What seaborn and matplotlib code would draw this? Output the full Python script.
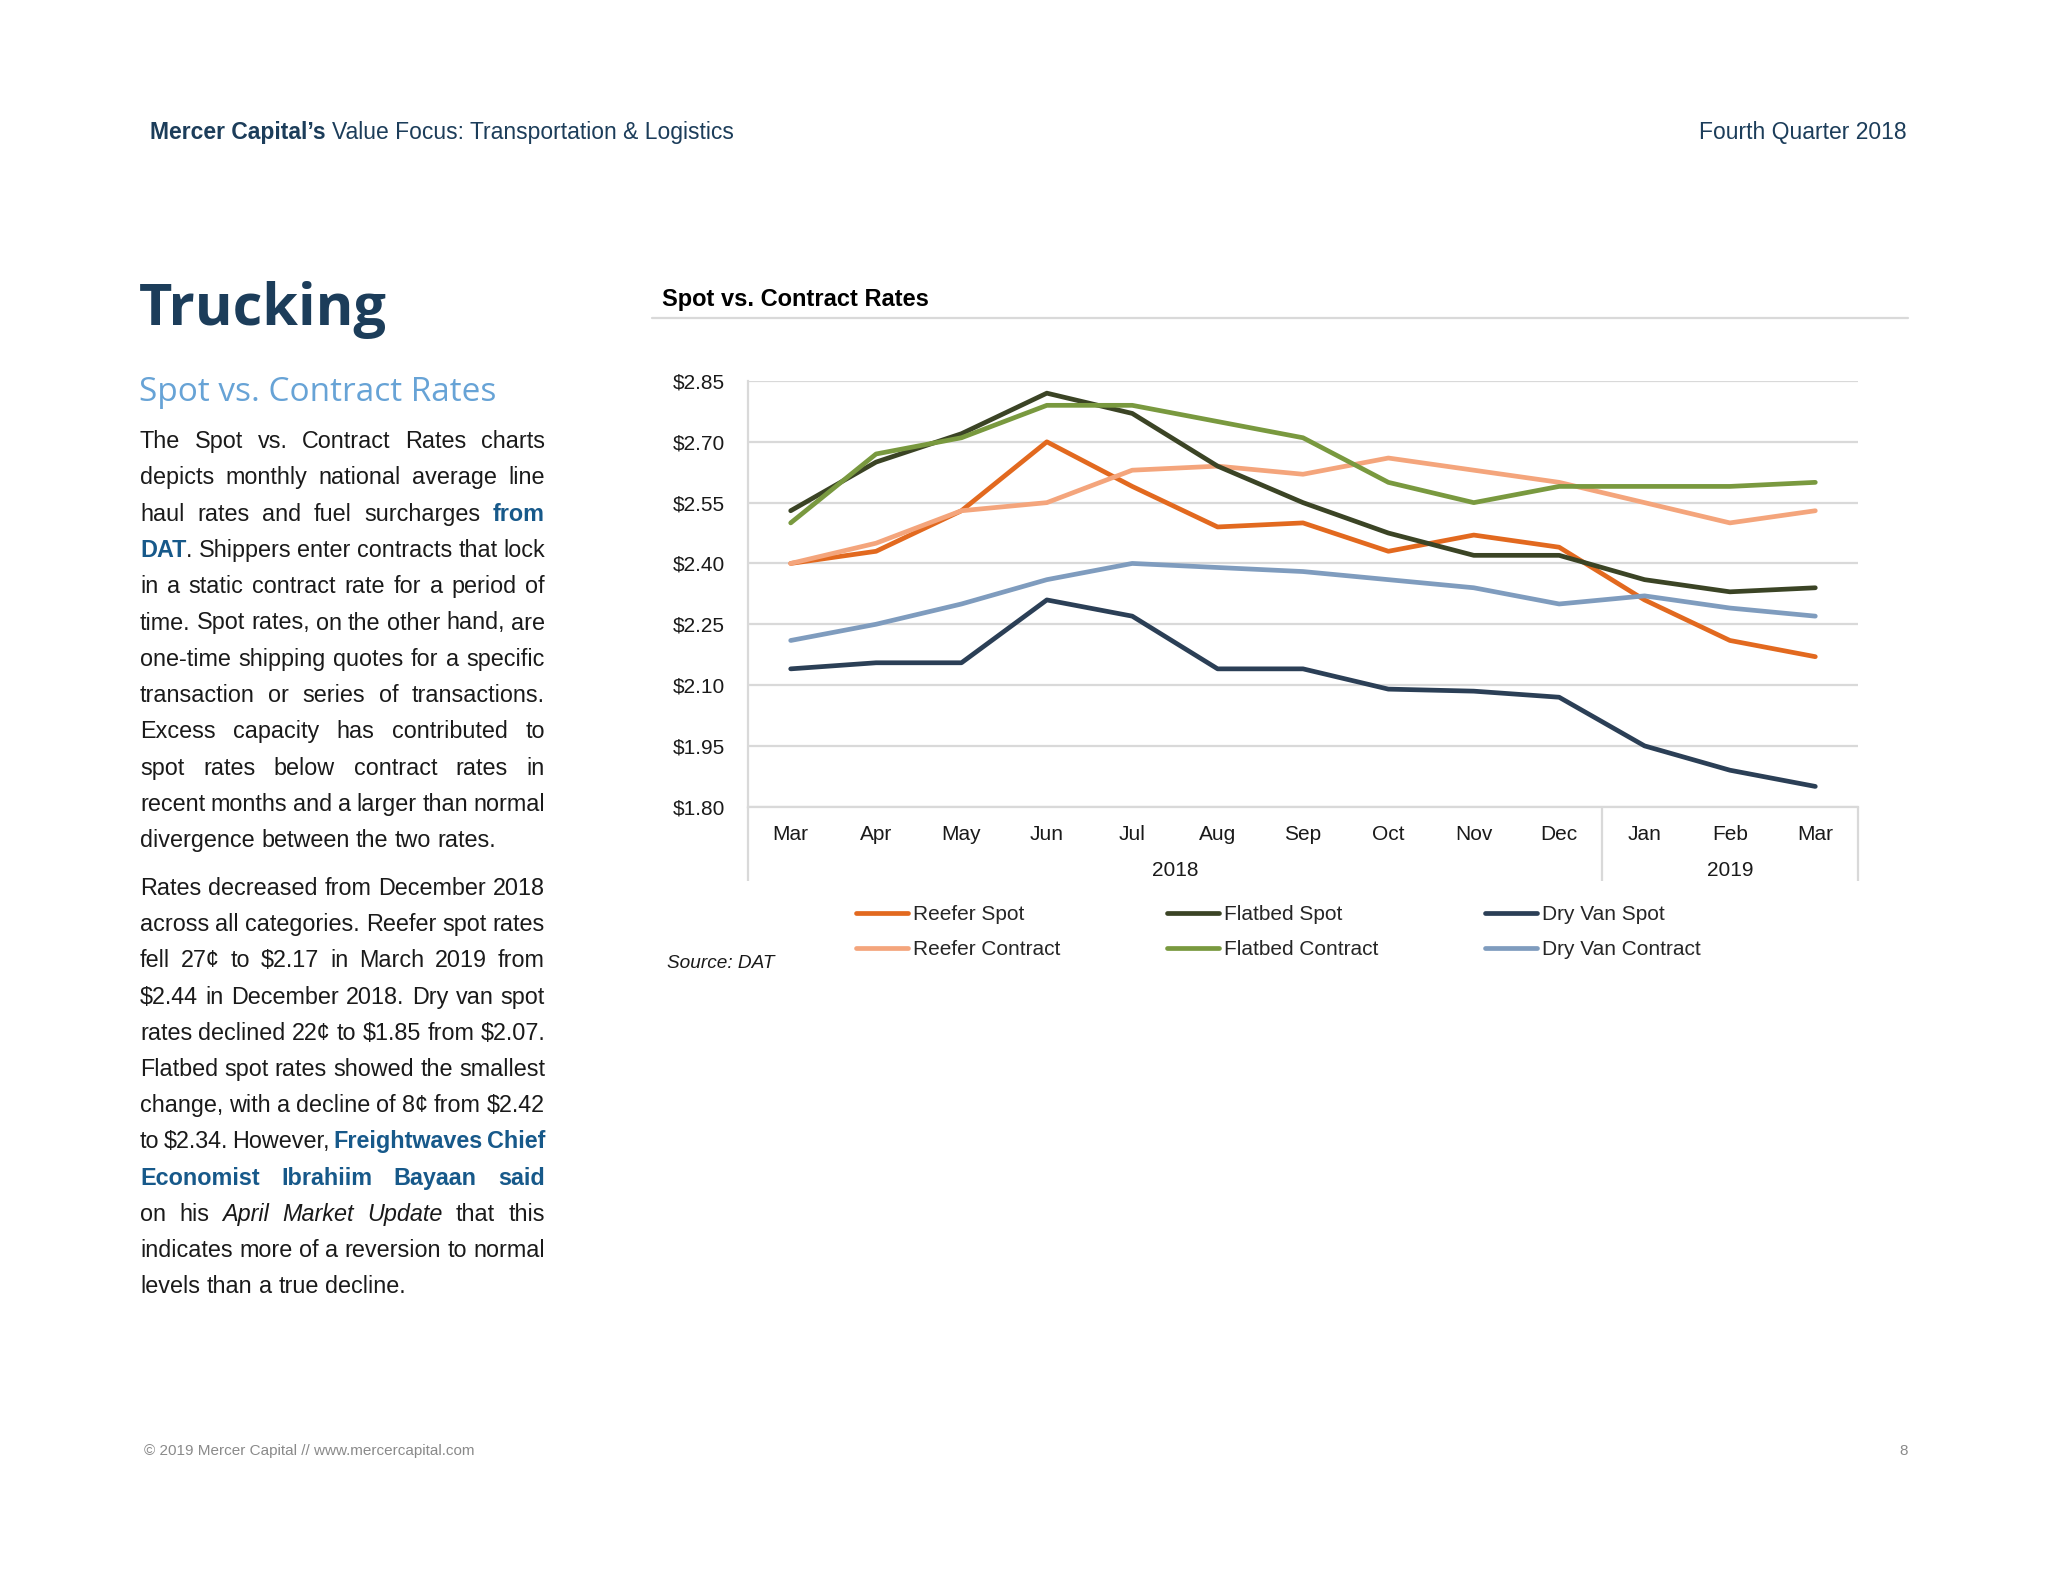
"""
Mercer Capital Value Focus page: Trucking spot vs. contract rates.
"""
import re
import numpy as np
import pandas as pd
import matplotlib
matplotlib.use('Agg')
import matplotlib.pyplot as plt
import seaborn as sns

# ---- chart data (USD per mile) ----
months = ['Mar', 'Apr', 'May', 'Jun', 'Jul', 'Aug', 'Sep', 'Oct', 'Nov', 'Dec', 'Jan', 'Feb', 'Mar']
years = ['2018', '2019']
months_per_year = [10, 3]

reefer_spot = [2.40, 2.43, 2.53, 2.70, 2.59, 2.49, 2.50, 2.43, 2.47, 2.44, 2.31, 2.21, 2.17]
reefer_contract = [2.40, 2.45, 2.53, 2.55, 2.63, 2.64, 2.62, 2.66, 2.63, 2.60, 2.55, 2.50, 2.53]
flatbed_spot = [2.53, 2.65, 2.72, 2.82, 2.77, 2.64, 2.55, 2.475, 2.42, 2.42, 2.36, 2.33, 2.34]
flatbed_contract = [2.50, 2.67, 2.71, 2.79, 2.79, 2.75, 2.71, 2.60, 2.55, 2.59, 2.59, 2.59, 2.60]
dry_van_spot = [2.14, 2.155, 2.155, 2.31, 2.27, 2.14, 2.14, 2.09, 2.085, 2.07, 1.95, 1.89, 1.85]
dry_van_contract = [2.21, 2.25, 2.30, 2.36, 2.40, 2.39, 2.38, 2.36, 2.34, 2.30, 2.32, 2.29, 2.27]

series_names = ['Reefer Spot', 'Reefer Contract', 'Flatbed Spot',
                'Flatbed Contract', 'Dry Van Spot', 'Dry Van Contract']
series_values = [reefer_spot, reefer_contract, flatbed_spot,
                 flatbed_contract, dry_van_spot, dry_van_contract]
series_colors = ['#e2691f', '#f4a57c', '#3b4425', '#79993f', '#2b3f56', '#7f9cbe']
y_ticks = [1.80, 1.95, 2.10, 2.25, 2.40, 2.55, 2.70, 2.85]

# ---- page text ----
para1 = [
    "The Spot vs. Contract Rates charts",
    "depicts monthly national average line",
    "haul rates and fuel surcharges *from*",
    "*DAT*. Shippers enter contracts that lock",
    "in a static contract rate for a period of",
    "time. Spot rates, on the other hand, are",
    "one-time shipping quotes for a specific",
    "transaction or series of transactions.",
    "Excess capacity has contributed to",
    "spot rates below contract rates in",
    "recent months and a larger than normal",
    "divergence between the two rates.",
]
para2 = [
    "Rates decreased from December 2018",
    "across all categories. Reefer spot rates",
    "fell 27¢ to $2.17 in March 2019 from",
    "$2.44 in December 2018. Dry van spot",
    "rates declined 22¢ to $1.85 from $2.07.",
    "Flatbed spot rates showed the smallest",
    "change, with a decline of 8¢ from $2.42",
    "to $2.34. However, *Freightwaves* *Chief*",
    "*Economist* *Ibrahiim* *Bayaan* *said*",
    "on his _April_ _Market_ _Update_ that this",
    "indicates more of a reversion to normal",
    "levels than a true decline.",
]

NAVY = '#1c3d5a'
LINK = '#17598a'
TEXT = '#1a1a1a'
GRID = '#d9d9d9'

sns.set_style('white')
plt.rcParams['font.family'] = ['Liberation Sans', 'DejaVu Sans']

W, H = 2048, 1582
fig = plt.figure(figsize=(W / 100, H / 100), dpi=100)
fig.patch.set_facecolor('white')


def px(x, y):
    """pixel position (from top-left) -> figure fraction"""
    return x / W, 1 - y / H


# ---- header / footer ----
renderer = fig.canvas.get_renderer()
t = fig.text(*px(150, 139), "Mercer Capital’s", fontsize=16.5, weight='bold',
             color=NAVY, va='baseline')
w = t.get_window_extent(renderer).width
fig.text(*px(150 + w + 6, 139), "Value Focus: Transportation & Logistics",
         fontsize=16.5, color=NAVY, va='baseline')
fig.text(*px(1907, 139), "Fourth Quarter 2018", fontsize=16.5, color=NAVY,
         va='baseline', ha='right')
fig.text(*px(144, 1455), "© 2019 Mercer Capital // www.mercercapital.com",
         fontsize=11, color='#8a8a8a', va='baseline')
fig.text(*px(1908, 1455), "8", fontsize=11, color='#8a8a8a', va='baseline', ha='right')

fig.text(*px(139, 325), "Trucking", fontsize=41.5, weight='bold', color=NAVY,
         va='baseline', family=['Open Sans', 'DejaVu Sans'])
fig.text(*px(139, 401), "Spot vs. Contract Rates", fontsize=24, color='#67a3d6',
         va='baseline', family=['Open Sans', 'DejaVu Sans'])

# ---- justified body text ----
STYLES = {
    'n': dict(color=TEXT),
    'b': dict(color=LINK, weight='bold'),
    'i': dict(color=TEXT, style='italic'),
}


def pieces(word):
    out = []
    for tok in re.findall(r'\*[^*]+\*|_[^_]+_|[^*_]+', word):
        if tok.startswith('*'):
            out.append((tok[1:-1], 'b'))
        elif tok.startswith('_'):
            out.append((tok[1:-1], 'i'))
        else:
            out.append((tok, 'n'))
    return out


def draw_paragraph(lines, x0, x1, y0, step, size=16.8):
    space = size * 100 / 72 * 0.278
    for i, line in enumerate(lines):
        y = y0 + i * step
        words = []
        for word in line.split():
            texts = []
            for s, st in pieces(word):
                tt = fig.text(0, 0, s, fontsize=size, va='baseline', **STYLES[st])
                texts.append((tt, tt.get_window_extent(renderer).width))
            words.append(texts)
        widths = [sum(wd for _, wd in ws) for ws in words]
        last = i == len(lines) - 1
        gap = space if last or len(words) < 2 else (x1 - x0 - sum(widths)) / (len(words) - 1)
        x = x0
        for ws, wtot in zip(words, widths):
            xx = x
            for tt, wd in ws:
                tt.set_position(px(xx, y))
                xx += wd
            x += wtot + gap


draw_paragraph(para1, 140, 545, 448, 36.3)
draw_paragraph(para2, 140, 545, 895, 36.2)

# ---- chart title and rule ----
fig.text(*px(662, 306), "Spot vs. Contract Rates", fontsize=17, weight='bold',
         color='black', va='baseline')
fig.add_artist(plt.Line2D([652 / W, 1908 / W], [1 - 318 / H] * 2, color=GRID, lw=1.6))
fig.text(*px(667, 968), "Source: DAT", fontsize=13.7, style='italic', color=TEXT,
         va='baseline')

# ---- line chart ----
df = pd.DataFrame({
    'month': np.tile(np.arange(len(months)), len(series_names)),
    'rate': np.concatenate(series_values),
    'series': np.repeat(series_names, len(months)),
})

ax = fig.add_axes([748 / W, 1 - 806.7 / H, (1858 - 748) / W, (806.7 - 381) / H])
sns.lineplot(data=df, x='month', y='rate', hue='series', hue_order=series_names,
             palette=series_colors, linewidth=3.4, ax=ax)

ax.set_xlim(-0.5, len(months) - 0.5)
ax.set_ylim(y_ticks[0], y_ticks[-1])
ax.set_yticks(y_ticks, labels=[f'${v:.2f}' for v in y_ticks])
ax.set_xticks(np.arange(len(months)), labels=months)
ax.set_xticks(np.arange(len(months) + 1) - 0.5, minor=True)
ax.set_xlabel('')
ax.set_ylabel('')
ax.grid(axis='y', color=GRID, lw=1.6)
ax.set_axisbelow(True)
for side in ['top', 'right']:
    ax.spines[side].set_visible(False)
for side in ['left', 'bottom']:
    ax.spines[side].set_color(GRID)
    ax.spines[side].set_linewidth(1.6)
ax.tick_params(axis='y', length=5, width=1.6, color=GRID, pad=11.5,
               labelsize=15, labelcolor=TEXT)
ax.tick_params(axis='x', which='major', length=0, pad=13, labelsize=15, labelcolor=TEXT)
ax.tick_params(axis='x', which='minor', length=27, width=1.6, color=GRID, direction='out')

# year level of the category axis
bounds = np.concatenate([[0], np.cumsum(months_per_year)]) - 0.5
centers = (bounds[:-1] + bounds[1:]) / 2
sec = ax.secondary_xaxis('bottom')
sec.set_xticks(bounds, labels=[''] * len(bounds))
sec.set_xticks(centers, labels=years, minor=True)
sec.tick_params(which='major', length=53, width=1.6, color=GRID)
sec.tick_params(which='minor', length=0, pad=39, labelsize=15, labelcolor=TEXT)
sec.spines['bottom'].set_visible(False)

sns.move_legend(ax, 'upper left', bbox_to_anchor=px(856, 905),
                bbox_transform=fig.transFigure, ncol=3, title=None, frameon=False,
                fontsize=15, handlelength=2.5, handletextpad=0.25,
                columnspacing=5.1, labelspacing=0.76, borderpad=0, borderaxespad=0)

fig.savefig('out.png', dpi=100, facecolor='white')
